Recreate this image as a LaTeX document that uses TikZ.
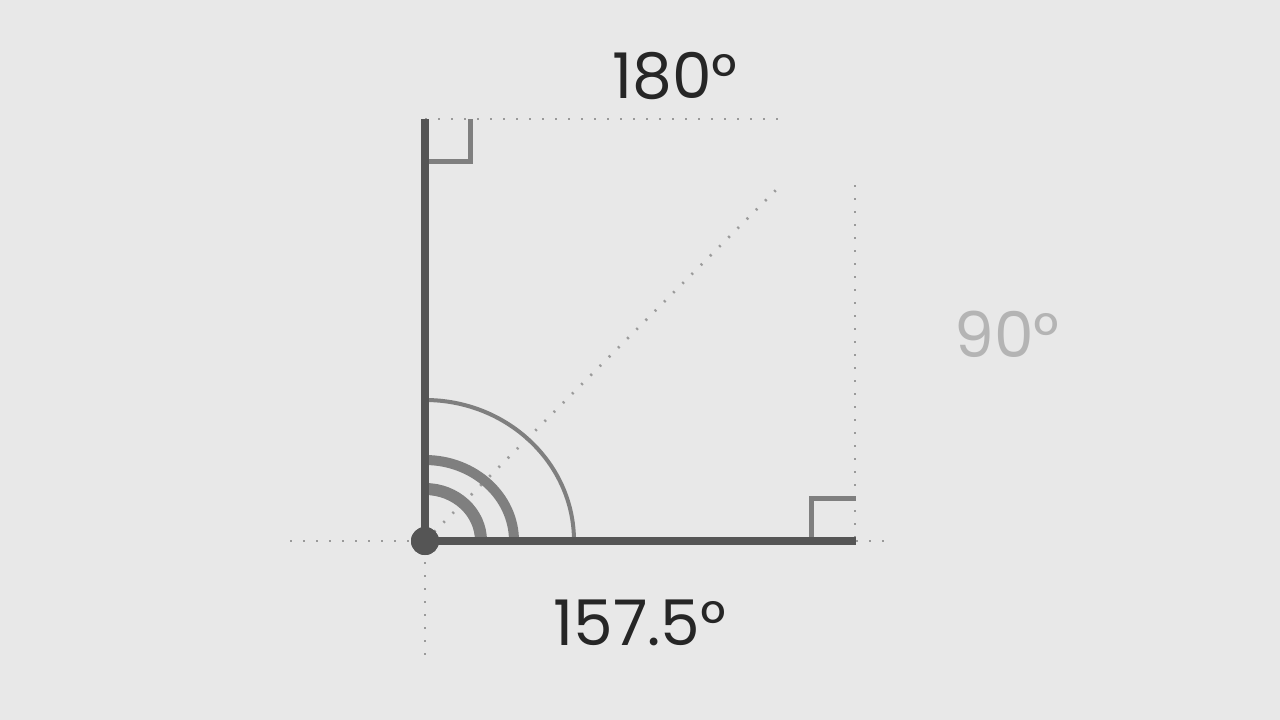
\documentclass[tikz,border=0pt]{standalone}
\usepackage{fontspec}
\setmainfont{Poppins}
\usepackage{xcolor}
\usepackage{tikz}
\definecolor{bgcol}{HTML}{E8E8E8}
\definecolor{raycol}{HTML}{555555}
\definecolor{markcol}{HTML}{7F7F7F}
\definecolor{dotcol}{HTML}{9A9A9A}
\definecolor{faint}{HTML}{B4B4B4}

\begin{document}
\begin{tikzpicture}[
	x=1pt, y=-1pt,
	ray/.style={draw=raycol, line width=8pt},
	marker/.style={draw=markcol, line width=5pt},
	guide/.style={draw=dotcol, line width=2.5pt, dash pattern=on 2pt off 11pt},
	label/.style={
		font=\fontsize{63}{66}\selectfont,
		text=black!85,
		inner sep=0pt
	}
]
\fill[bgcol] (0,0) rectangle (1280,720);
% guides
\coordinate (top) at (425,119);
\coordinate (right) at (856,541);
\draw[guide] (top) -- (780,119);
\draw[guide] (855,185) -- (855,541);
\draw[guide] (290,541) -- (425,541) -- (425,655);
\draw[guide] (right) -- (890,541);
\draw[guide] (425,541) -- (780,186);
% angle arcs
\draw[markcol, line width=4pt] (574,541) arc[start angle=0, end angle=90, x radius=149, y radius=-141];
\draw[markcol, line width=10pt] (514,541) arc[start angle=0, end angle=90, x radius=89, y radius=-81];
\draw[markcol, line width=12pt] (481,541) arc[start angle=0, end angle=90, x radius=56, y radius=-52];
% right angle marks
\draw[marker] (470,119) -- (470,161) -- (429,161);
\draw[marker] (811,541) -- (811,498) -- (856,498);
% rays
\node (vertex) [circle, fill=raycol, minimum size=28pt, inner sep=0pt] at (425,541) {};
\draw[ray] (vertex.center) -- (top);
\draw[ray] (vertex.center) -- (right);
\node[circle, fill=raycol, minimum size=28pt, inner sep=0pt] at (vertex) {};
% labels
\node (deg180) [label] at (675,76) {180°};
\node (deg90) [label, text=faint] at (1007,334) {90°};
\node (deg157) [label] at (640,623) {157.5°};
\end{tikzpicture}
\end{document}
